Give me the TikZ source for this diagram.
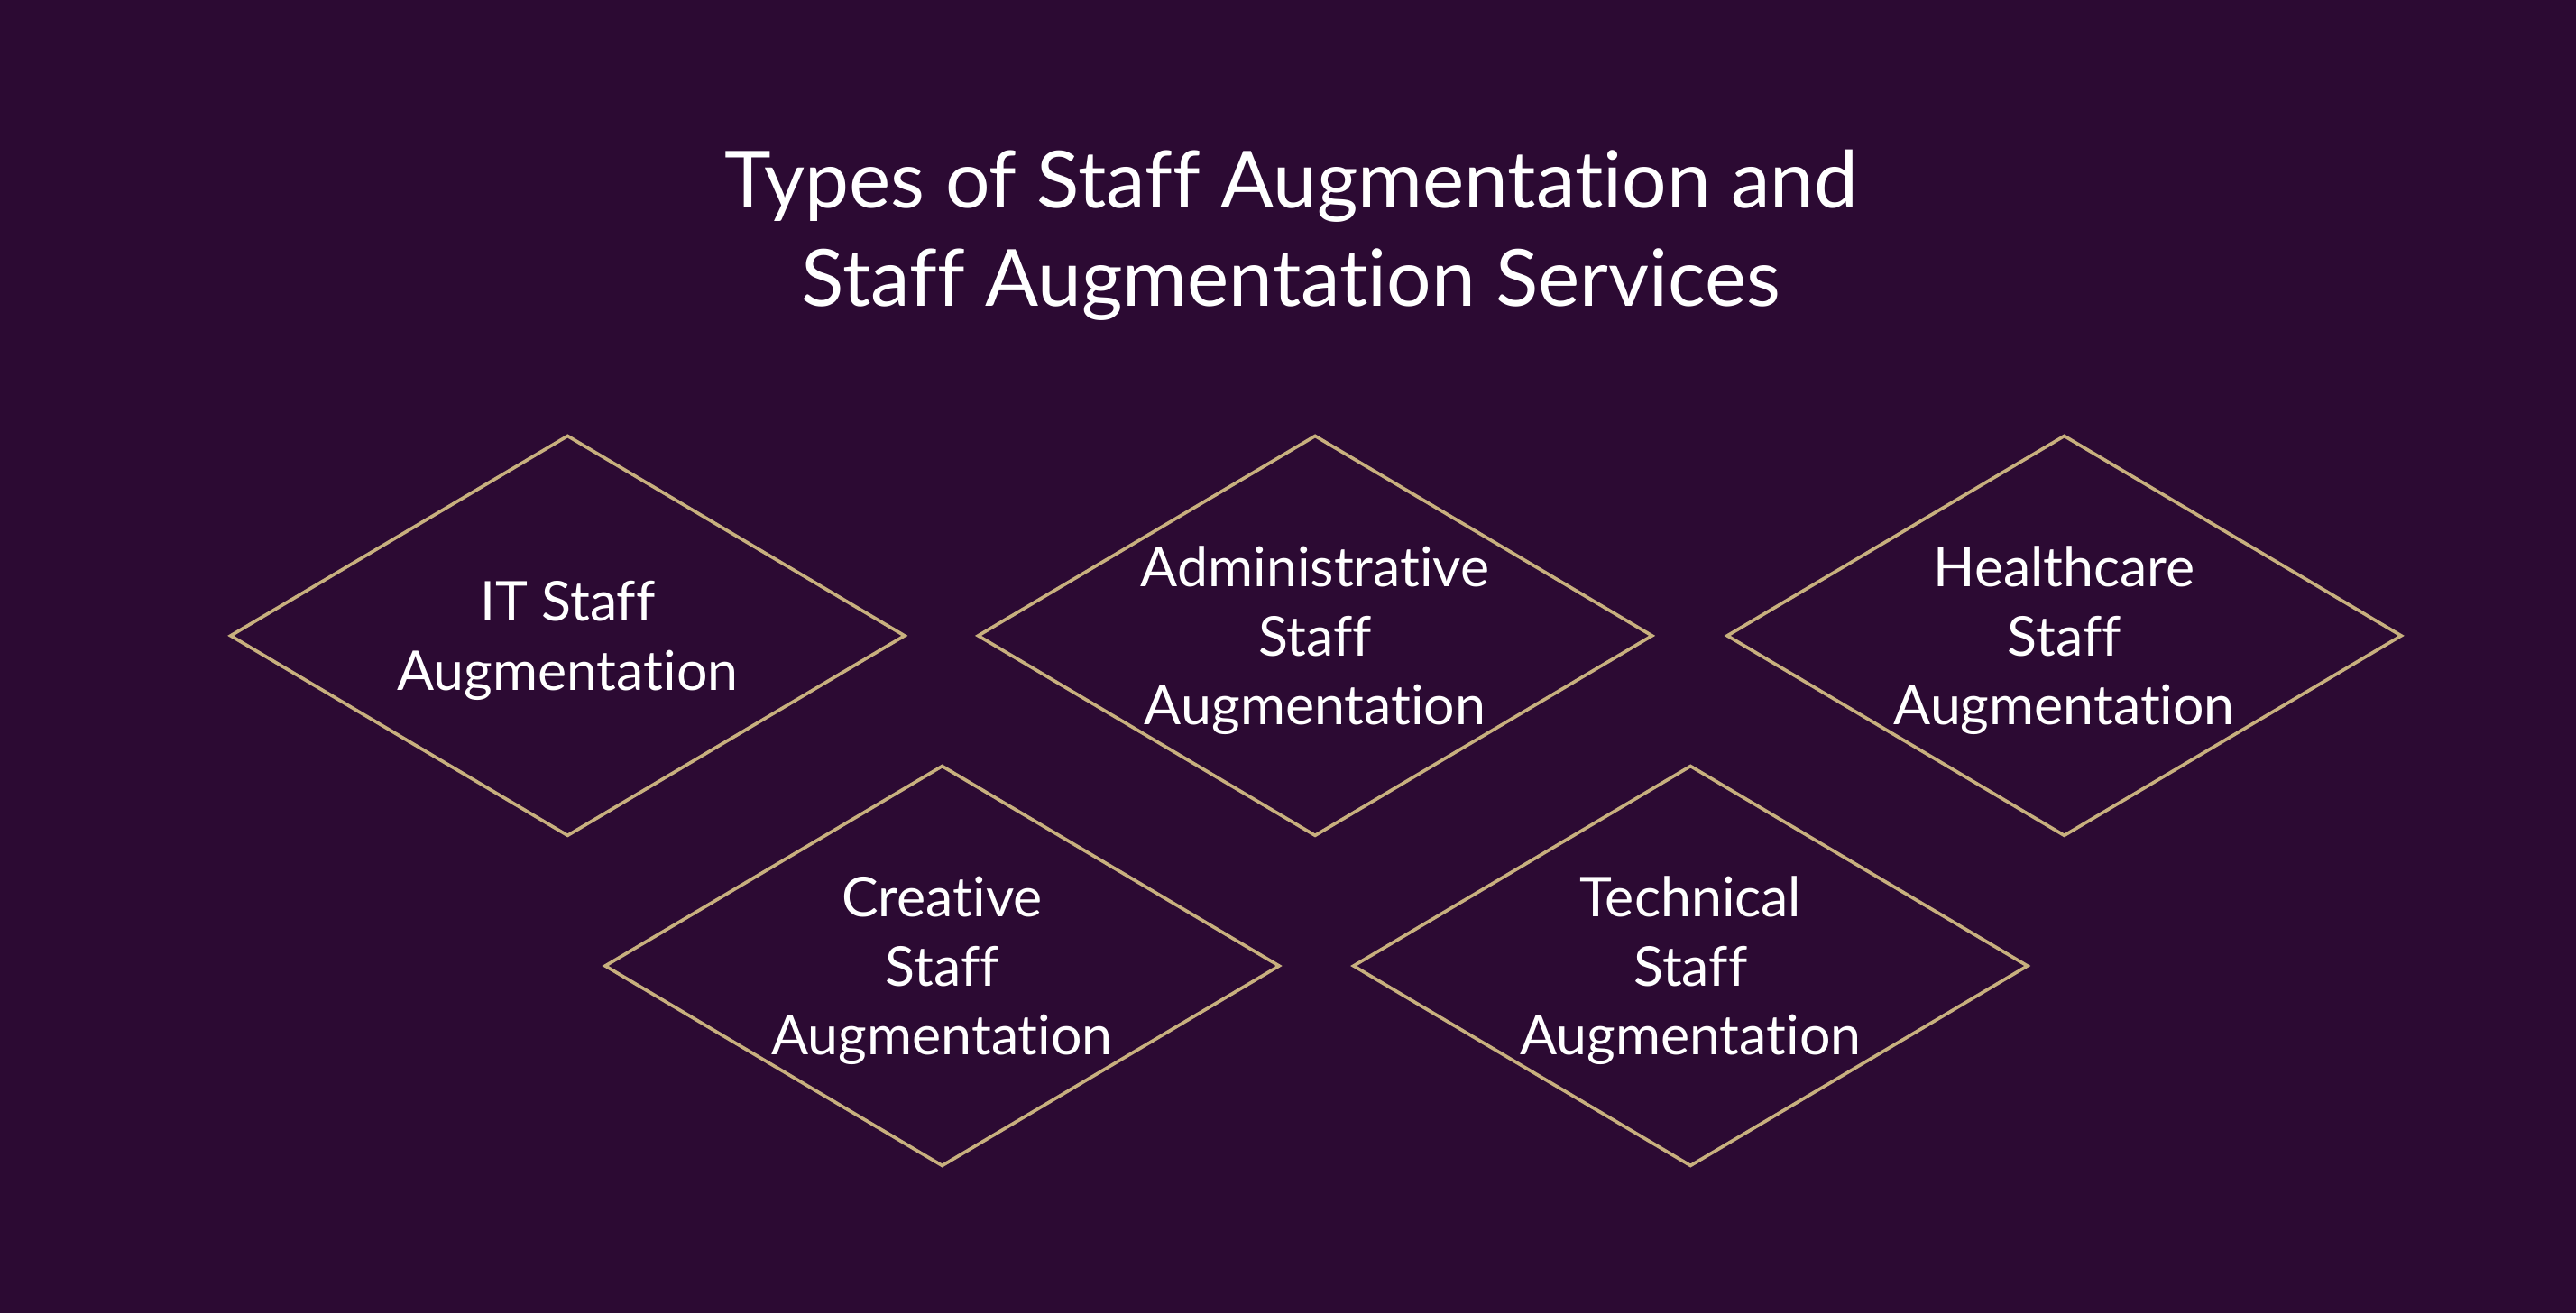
\documentclass[tikz,border=0pt]{standalone}
\usepackage{fontspec}
\setmainfont{Lato}[Ligatures={NoCommon,NoDiscretionary,NoRare}]
\definecolor{bgc}{HTML}{2C0A33}
\definecolor{linec}{HTML}{C8B07E}
\usetikzlibrary{shapes.geometric}
\begin{document}
\begin{tikzpicture}[x=1pt,y=-1pt,
  dia/.style={draw=linec,line width=2pt,shape=diamond,minimum width=411pt,minimum height=244pt,inner sep=0pt},
  lbl/.style={text=white,align=center,yshift=-3pt,font=\fontsize{33.4}{42}\selectfont},
  ttl/.style={text=white,align=center,font=\fontsize{48}{60}\selectfont}]
\fill[bgc] (0,0) rectangle (1568,799.4);
\useasboundingbox (0,0) rectangle (1568,799.4);
\node[ttl] (title) at (786,143) {Types of Staff Augmentation and\\Staff Augmentation Services};
\node[dia] (d1) at (345.5,387) {};
\node[dia] (d2) at (800.5,387) {};
\node[dia] (d3) at (1256.5,387) {};
\node[dia] (d4) at (573.5,588) {};
\node[dia] (d5) at (1029,588) {};
\node[lbl] (t1) at (d1) {IT Staff\\Augmentation};
\node[lbl] (t2) at (d2) {Administrative\\Staff\\Augmentation};
\node[lbl] (t3) at (d3) {Healthcare\\Staff\\Augmentation};
\node[lbl] (t4) at (d4) {Creative\\Staff\\Augmentation};
\node[lbl] (t5) at (d5) {Technical\\Staff\\Augmentation};
\end{tikzpicture}
\end{document}
